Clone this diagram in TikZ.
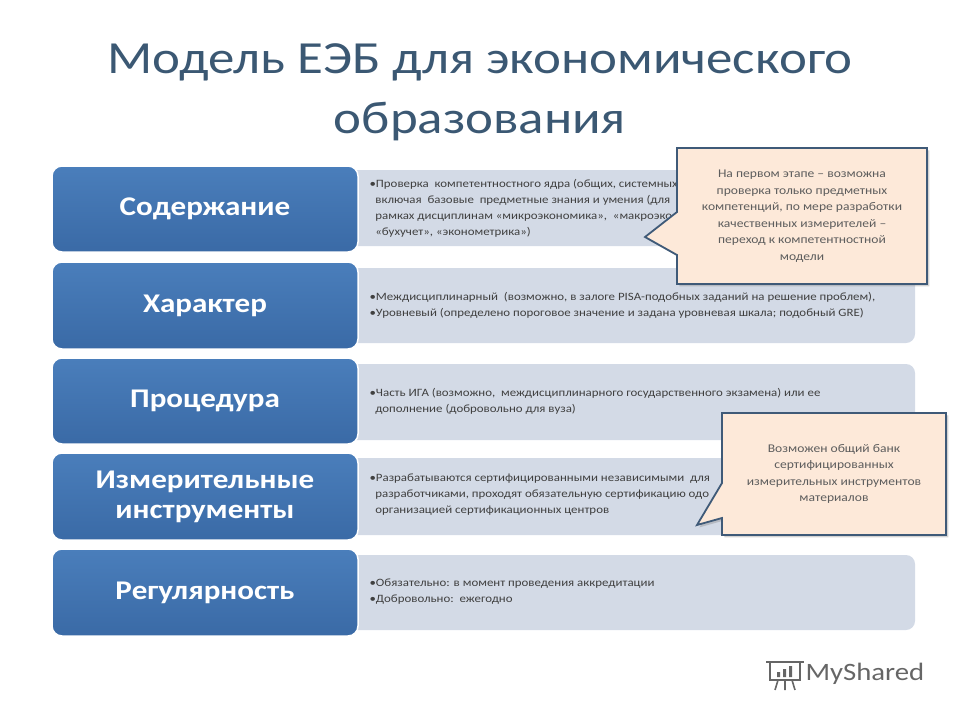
\documentclass[tikz,border=0pt]{standalone}
\usepackage{fontspec}
\setmainfont{Carlito}[FakeStretch=1.15]
\usetikzlibrary{shadows}
\definecolor{titc}{HTML}{3B5873}
\definecolor{blu}{HTML}{4A7EBB}
\definecolor{blu2}{HTML}{3A6AA6}
\definecolor{lite}{HTML}{D3DAE6}
\definecolor{txt}{HTML}{404040}
\definecolor{peach}{HTML}{FDE9D9}
\definecolor{edge}{HTML}{3F5A78}
\tikzset{x=1pt,y=-1pt,
 lbox/.style={fill=lite,rounded corners=9pt},
 bbox/.style={top color=blu,bottom color=blu2,draw=white,line width=1.5pt,rounded corners=10pt},
 blab/.style={font=\bfseries\fontsize{27}{30}\selectfont,text=white,align=center},
 btxt/.style={font=\fontsize{11.2}{16}\selectfont,text=txt,anchor=west,align=left},
 call/.style={fill=peach,draw=edge,line width=1.8pt,drop shadow={opacity=0.35}},
 ctxt/.style={font=\fontsize{11.8}{16.5}\selectfont,text=txt!85,align=center}}
\begin{document}
\begin{tikzpicture}
\useasboundingbox (0,0) rectangle (960,720);
\node[font=\fontsize{46}{60}\selectfont,text=titc,align=center] (title) at (480,92) {Модель ЕЭБ для экономического\\образования};
% light boxes
\foreach \a/\b/\n in {170/246/l1,268/343/l2,364/440/l3,458/535/l4,555/630/l5}
  \path[lbox] (340,\a) rectangle (915,\b) coordinate (\n);
\node[btxt] (t1) at (366,208) {•Проверка\ \ компетентностного ядра (общих, системных\\\ \ включая\ \ базовые\ \ предметные знания и умения (для\\\ \ рамках дисциплинам «микроэкономика»,\ \ «макроэко\\\ \ «бухучет», «эконометрика»)};
\node[btxt] (t2) at (366,305) {•Междисциплинарный\ \ (возможно, в залоге PISA-подобных заданий\ на решение проблем),\\•Уровневый (определено пороговое значение и задана уровневая\ шкала; подобный GRE)};
\node[btxt] (t3) at (366,401) {•Часть ИГА (возможно,\ \ междисциплинарного государственного экзамена) или ее\\\ \ дополнение (добровольно для вуза)};
\node[btxt] (t4) at (366,495) {•Разрабатываются сертифицированными независимыми\ \ для\\\ \ разработчиками, проходят обязательную сертификацию одо\\\ \ организацией сертификационных центров};
\node[btxt] (t5) at (366,592) {•Обязательно: в момент проведения аккредитации\\•Добровольно:\ \ ежегодно};
% blue boxes
\foreach \a/\b/\n/\l in {166/252/b1/Содержание,262/349/b2/Характер,358/444/b3/Процедура,453/540/b4/{Измерительные\\инструменты},549/636/b5/Регулярность}{
  \path[bbox] (52,\a) rectangle (358,\b);
  \node[blab] (\n) at (205,{(\a+\b)/2}) {\l};}
% callouts
\path[call] (677,148) -- (927,148) -- (927,284) -- (677,284) -- (677,255) -- (645,237) -- (677,212) -- cycle;
\node[ctxt] (c1) at (802,216) {На первом этапе – возможна\\проверка только предметных\\компетенций, по мере разработки\\качественных измерителей –\\переход к компетентностной\\модели};
\path[call] (722,413) -- (946,413) -- (946,535) -- (722,535) -- (722,518) -- (697,525) -- (722,483) -- cycle;
\node[ctxt] (c2) at (834,474) {Возможен\ общий банк\\сертифицированных\\измерительных инструментов\\материалов};
% logo
\begin{scope}[draw=gray!80!black,line width=1.6pt]
\draw (770,662) rectangle (800,680);
\draw (766,662) -- (804,662);
\fill[gray!80!black] (777,672) rectangle (780,677) (783,669) rectangle (786,677) (789,666) rectangle (792,677);
\draw (778,680) -- (775,690) (785,680) -- (785,690) (792,680) -- (795,690);
\end{scope}
\node[font=\fontsize{25}{30}\selectfont,text=gray!80!black,anchor=west] (logo) at (802,674) {MyShared};
\end{tikzpicture}
\end{document}
